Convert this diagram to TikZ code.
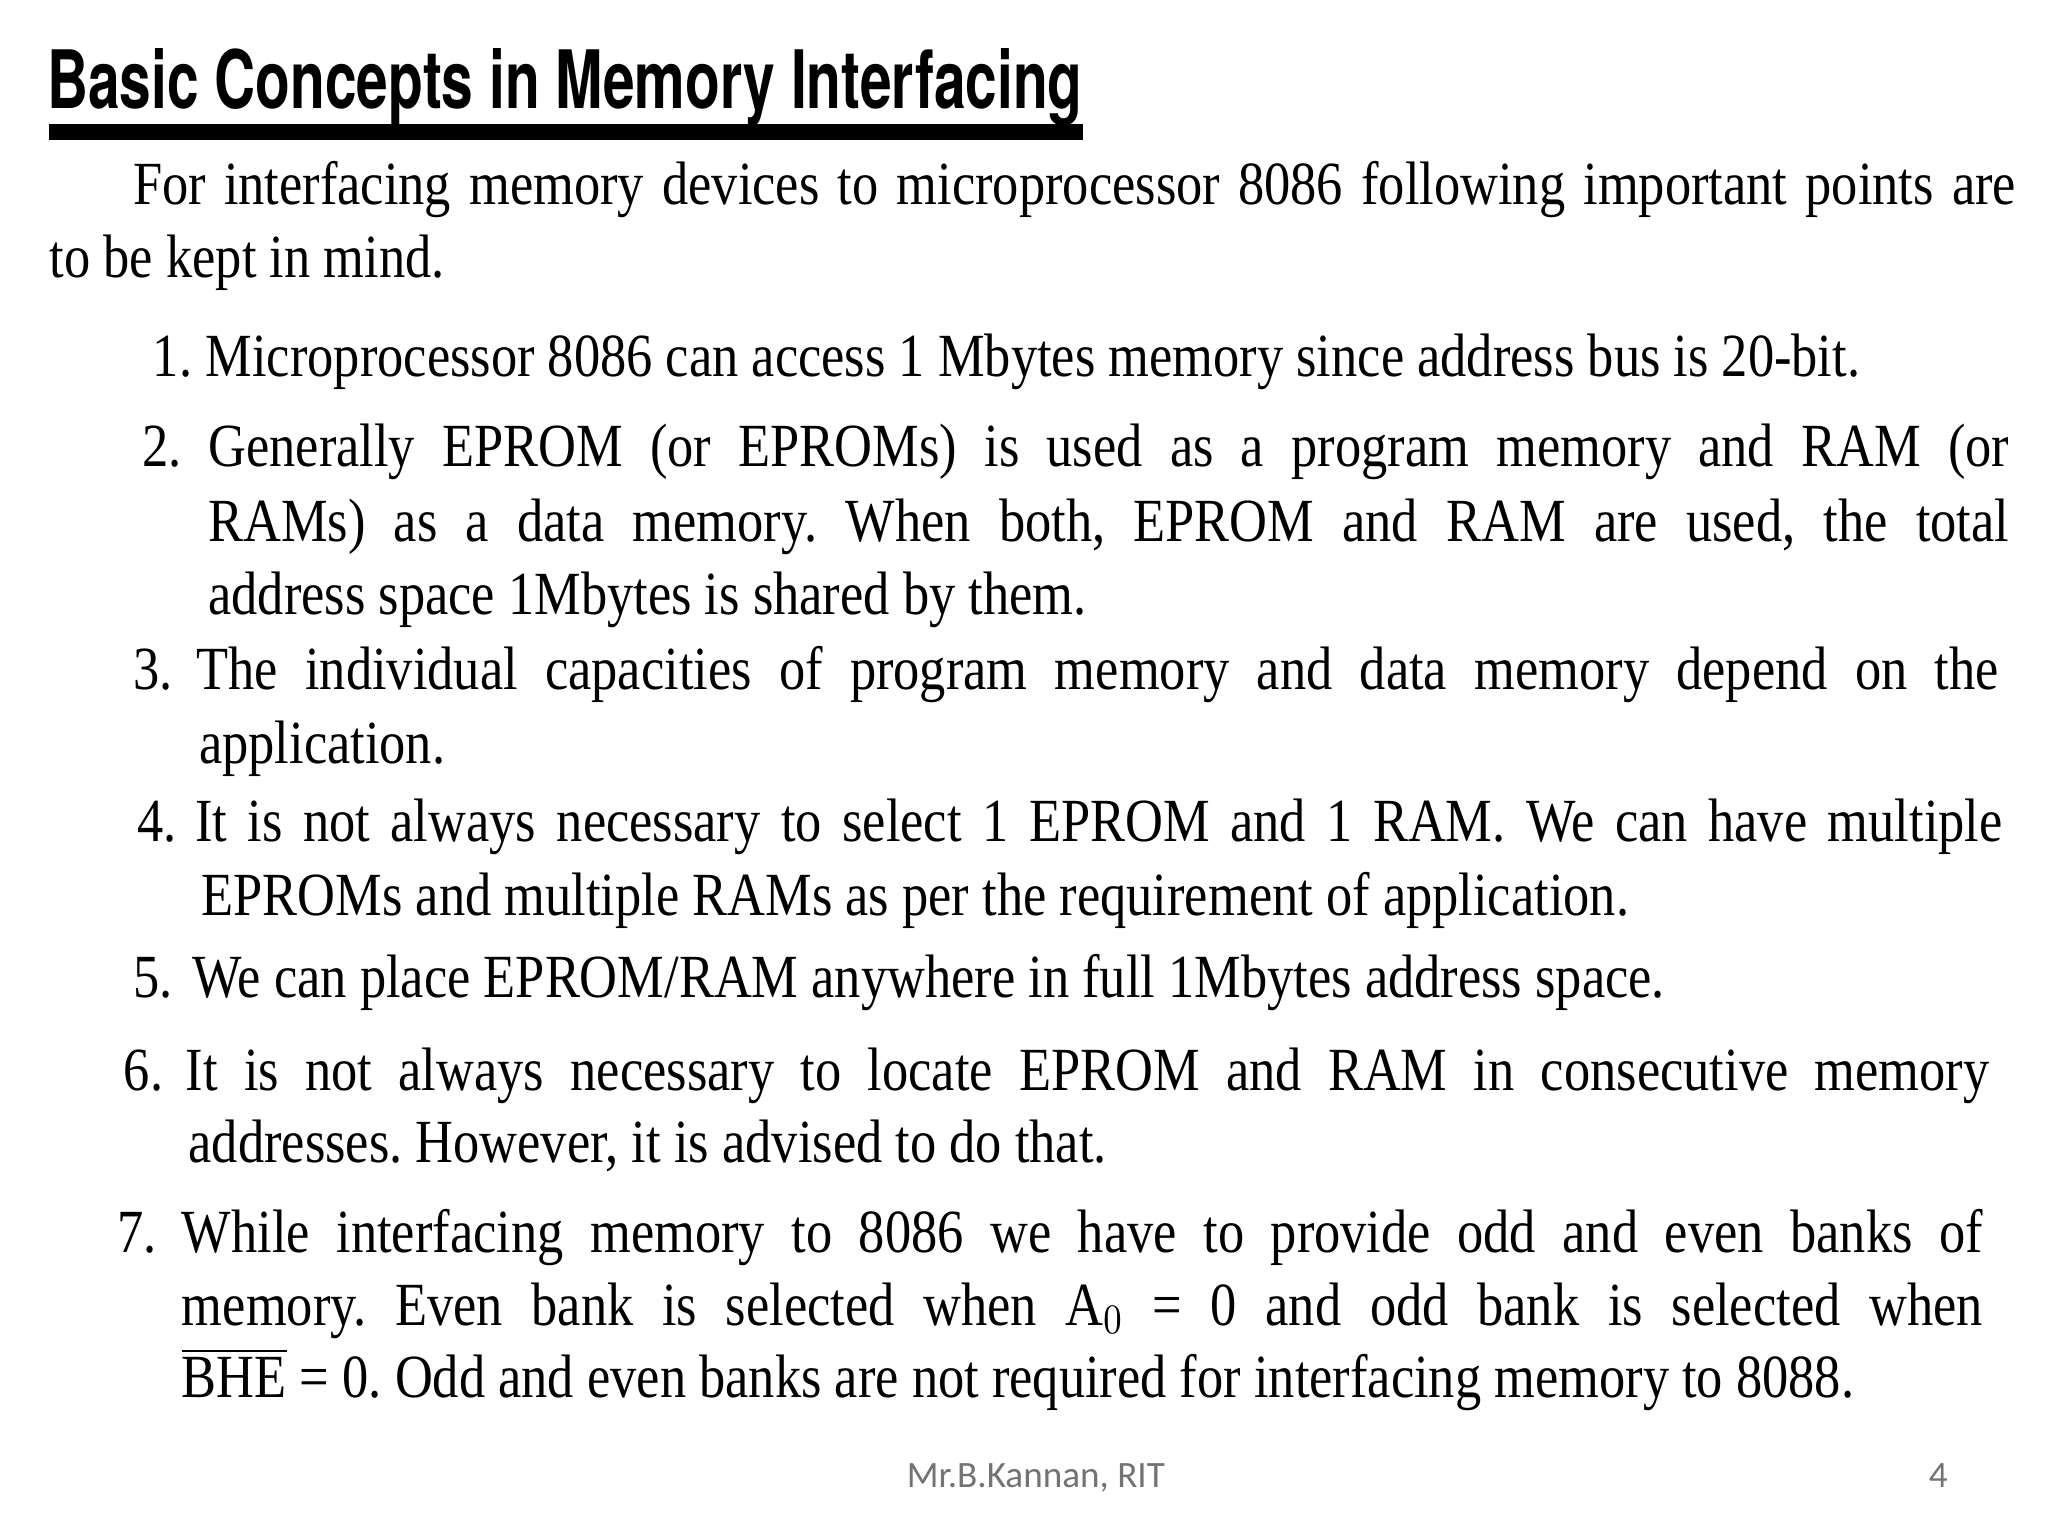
\documentclass[tikz,border=0pt]{standalone}
\usepackage{fontspec}
\setmainfont{Liberation Serif}
\newfontfamily\titlefont{TeX Gyre Heros}
\newfontfamily\footfont{Carlito}
\frenchspacing
\begin{document}
\begin{tikzpicture}[x=0.01cm,y=-0.01cm,
  txt/.style={anchor=base west,inner sep=0pt,font=\fontsize{13.2}{16}\selectfont\frenchspacing},
  foot/.style={anchor=base,inner sep=0pt,font=\footfont\fontsize{8}{10}\selectfont,text=black!55}]
\useasboundingbox (0,0) rectangle (1550,1162);
\newcommand\sx[1]{\scalebox{0.855}[1]{#1}}
\newcommand\jl[4]{\node[txt] (#1) at (#2) {\sx{\makebox[\dimexpr 0.01cm*#3*1000/855\relax][s]{#4}}};}
\node[anchor=base west,inner sep=0pt,font=\titlefont\bfseries\fontsize{17}{20}\selectfont] (title) at (35,82) {\scalebox{0.72}[1.02]{Basic Concepts in Memory Interfacing}};
\draw[line width=3.5pt] (37,100) -- (820,100);
\jl{p1}{100,155}{1425}{For interfacing memory devices to microprocessor 8086 following important points are}
\node[txt] (p2) at (37,210) {\sx{to be kept in mind.}};
\node[txt] (n1) at (115,285) {\sx{1.}};
\node[txt] (t1) at (155,285) {\sx{Microprocessor 8086 can access 1 Mbytes memory since address bus is 20-bit.}};
\node[txt] (n2) at (107,353) {\sx{2.}};
\jl{t2a}{157,353}{1363}{Generally EPROM (or EPROMs) is used as a program memory and RAM (or}
\jl{t2b}{157,410}{1363}{RAMs) as a data memory. When both, EPROM and RAM are used, the total}
\node[txt] (t2c) at (157,465) {\sx{address space 1Mbytes is shared by them.}};
\node[txt] (n3) at (100,522) {\sx{3.}};
\jl{t3a}{148,522}{1364}{The individual capacities of program memory and data memory depend on the}
\node[txt] (t3b) at (150,578) {\sx{application.}};
\node[txt] (n4) at (103,637) {\sx{4.}};
\jl{t4a}{147,637}{1368}{It is not always necessary to select 1 EPROM and 1 RAM. We can have multiple}
\node[txt] (t4b) at (152,693) {\sx{EPROMs and multiple RAMs as per the requirement of application.}};
\node[txt] (n5) at (100,755) {\sx{5.}};
\node[txt] (t5) at (145,755) {\sx{We can place EPROM/RAM anywhere in full 1Mbytes address space.}};
\node[txt] (n6) at (93,825) {\sx{6.}};
\jl{t6a}{140,825}{1365}{It is not always necessary to locate EPROM and RAM in consecutive memory}
\node[txt] (t6b) at (142,880) {\sx{addresses. However, it is advised to do that.}};
\node[txt] (n7) at (88,948) {\sx{7.}};
\jl{t7a}{137,948}{1363}{While interfacing memory to 8086 we have to provide odd and even banks of}
\jl{t7b}{137,1003}{1363}{memory. Even bank is selected when A$_0$ = 0 and odd bank is selected when}
\node[txt] (t7c) at (137,1058) {\sx{$\overline{\mbox{BHE}}$ = 0. Odd and even banks are not required for interfacing memory to 8088.}};
\node[foot] (f1) at (784,1126) {Mr.B.Kannan, RIT};
\node[foot] (f2) at (1467,1126) {4};
\end{tikzpicture}
\end{document}
